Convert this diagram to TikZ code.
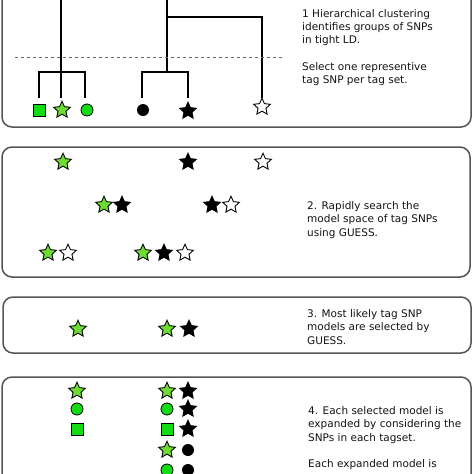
\documentclass[tikz,border=0pt]{standalone}
\usepackage{fontspec}
\setmainfont{DejaVu Sans}
\usetikzlibrary{shapes.geometric}
\definecolor{starg}{RGB}{110,220,50}
\definecolor{shapeg}{RGB}{20,220,20}
\definecolor{boxc}{RGB}{85,85,85}
\tikzset{
 snpstar/.style={star, star points=5, star point ratio=2.1, minimum size=17.5pt, inner sep=0pt, draw=black, line width=0.9pt},
 gstar/.style={snpstar, fill=starg},
 bstar/.style={snpstar, fill=black},
 wstar/.style={snpstar, fill=white},
 gcirc/.style={circle, minimum size=12pt, inner sep=0pt, draw=black, line width=0.8pt, fill=shapeg},
 bcirc/.style={circle, minimum size=12pt, inner sep=0pt, fill=black},
 gsq/.style={rectangle, minimum size=12pt, inner sep=0pt, draw=black, line width=0.8pt, fill=shapeg},
 panel/.style={draw=boxc, line width=1.5pt, rounded corners=10pt},
 desc/.style={anchor=base west, align=left, font=\fontsize{10.5}{13.3}\selectfont, inner sep=0pt, text=black!92},
 tree/.style={line width=1.4pt},
 cut/.style={draw=black!60, line width=1pt, dash pattern=on 3pt off 3pt},
}
\begin{document}
\begin{tikzpicture}[x=1pt,y=-1pt]
\useasboundingbox (0,0) rectangle (474,474);
\clip (0,0) rectangle (474,474);
\fill[white] (0,0) rectangle (474,474);

% ---------- panel 1 ----------
\draw[panel] (2,-30) rectangle (471,127);
\node[gsq]   (a1) at (39,110) {};
\node[gstar] (a2) at (62,110) {};
\node[gcirc] (a3) at (87,110) {};
\node[bcirc] (a4) at (143,110) {};
\node[bstar] (a5) at (188,111) {};
\node[wstar] (a6) at (262,107) {};

\coordinate (tL) at (61,0);
\coordinate (jL) at (61,72);
\coordinate (eL1) at (39,98);
\coordinate (eL2) at (61,98);
\coordinate (eL3) at (85,98);
\coordinate (tR) at (167,0);
\coordinate (hR) at (167,17);
\coordinate (jR) at (167,72);
\coordinate (eR1) at (142,98);
\coordinate (eR2) at (188,98);
\coordinate (eR3) at (262,98);
\draw[tree] (tL) -- (eL2);
\draw[tree] (eL1) |- (jL) -| (eL3);
\draw[tree] (tR) -- (jR);
\draw[tree] (eR1) |- (jR) -| (eR2);
\draw[tree] (hR) -| (eR3);

\coordinate (d1) at (15,57);
\coordinate (d2) at (282,57);
\draw[cut] (d1) -- (d2);

\node[desc] (t1) at (302,83.8) {1 Hierarchical clustering\\identifies groups of SNPs\\in tight LD.\\[13.3pt]Select one representive\\tag SNP per tag set.};

% ---------- panel 2 ----------
\draw[panel] (2,147) rectangle (470,277);
\node[gstar] (b1) at (63,162) {};
\node[bstar] (b2) at (188,162) {};
\node[wstar] (b3) at (263,162) {};
\node[gstar] (b4) at (104,205) {};
\node[bstar] (b5) at (122,205) {};
\node[bstar] (b6) at (212,205) {};
\node[wstar] (b7) at (231,205) {};
\node[gstar] (b8) at (48,253) {};
\node[wstar] (b9) at (68,253) {};
\node[gstar] (b10) at (143,253) {};
\node[bstar] (b11) at (164,253) {};
\node[wstar] (b12) at (185,253) {};
\node[desc] (t2) at (307,236) {2. Rapidly search the\\model space of tag SNPs\\using GUESS.};

% ---------- panel 3 ----------
\draw[panel] (3,297) rectangle (471,353);
\node[gstar] (c1) at (78,329) {};
\node[gstar] (c2) at (167,329) {};
\node[bstar] (c3) at (189,329) {};
\node[desc] (t3) at (307,344) {3. Most likely tag SNP\\models are selected by\\GUESS.};

% ---------- panel 4 ----------
\draw[panel] (2,377) rectangle (471,520);
\node[gstar] (e1) at (77,391) {};
\node[gcirc] (e2) at (77,409) {};
\node[gsq]   (e3) at (77,429) {};
\node[gstar] (f1) at (167,391) {};
\node[gcirc] (f2) at (167,409) {};
\node[gsq]   (f3) at (167,429) {};
\node[gstar] (f4) at (167,450) {};
\node[gcirc] (f5) at (167,470) {};
\node[bstar] (g1) at (188,391) {};
\node[bstar] (g2) at (188,409) {};
\node[bstar] (g3) at (188,429) {};
\node[bcirc] (g4) at (188,450) {};
\node[bcirc] (g5) at (188,470) {};
\node[desc] (t4) at (308,467.7) {4. Each selected model is\\expanded by considering the\\SNPs in each tagset.\\[13.3pt]Each expanded model is};
\end{tikzpicture}
\end{document}
